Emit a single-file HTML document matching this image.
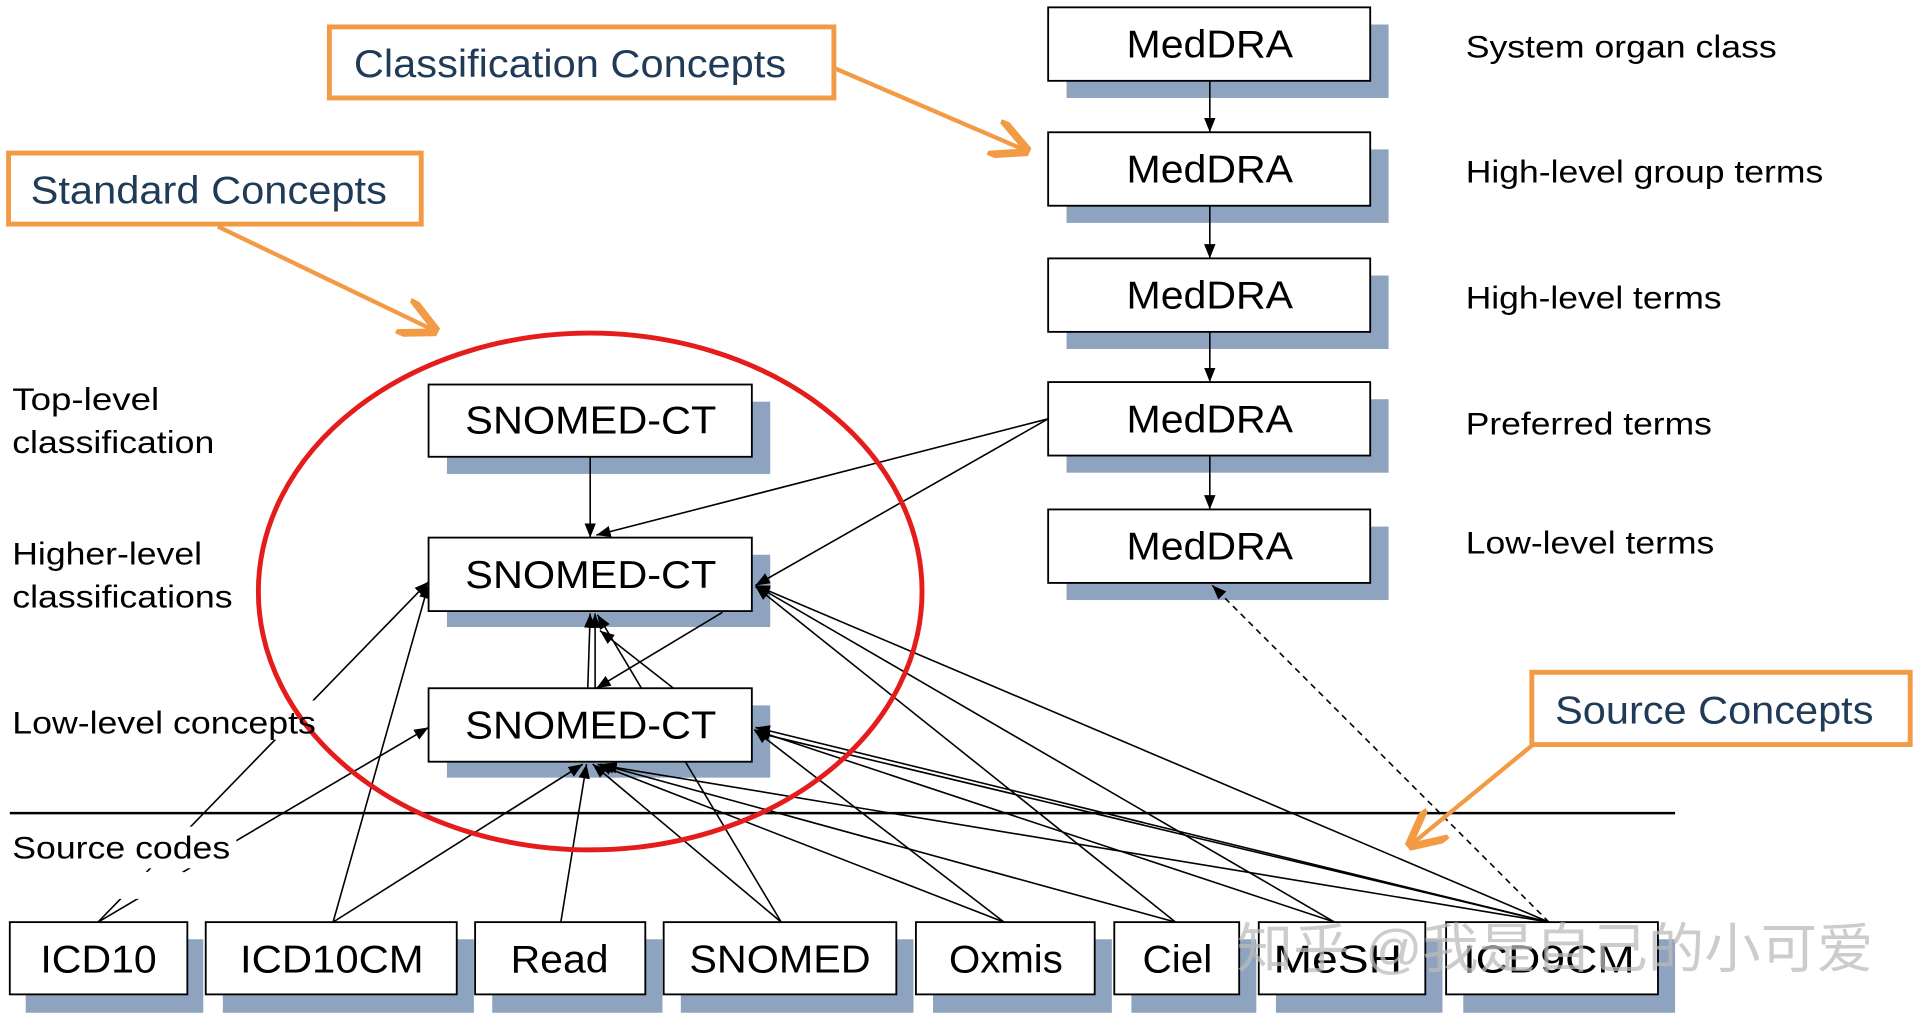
<!DOCTYPE html>
<html><head><meta charset="utf-8"><style>
html,body{margin:0;padding:0;background:#fff;width:1920px;height:1025px;overflow:hidden}
svg{display:block}
text{font-family:"Liberation Sans",sans-serif}
</style></head><body>
<svg width="1920" height="1025" viewBox="0 0 1568 837" preserveAspectRatio="none" xmlns="http://www.w3.org/2000/svg">
<defs>
<marker id="a" viewBox="0 0 10 10" refX="10" refY="5" markerWidth="9" markerHeight="9" orient="auto-start-reverse"><path d="M0,1 L10,5 L0,9 z" fill="#000"/></marker>
<marker id="o" viewBox="0 0 10 10" refX="9" refY="5" markerWidth="9" markerHeight="9" orient="auto"><path d="M0,0 L10,5 L0,10" fill="none" stroke="#f39a45" stroke-width="2"/></marker>
</defs>
<g fill="#8ea3bf">
<rect x="871" y="20" width="263" height="60"/><rect x="871" y="122" width="263" height="60"/><rect x="871" y="225" width="263" height="60"/><rect x="871" y="326" width="263" height="60"/><rect x="871" y="430" width="263" height="60"/>
<rect x="365" y="328" width="264" height="59"/><rect x="365" y="453" width="264" height="59"/><rect x="365" y="576" width="264" height="59"/>
<rect x="21" y="767" width="145" height="60"/><rect x="182" y="767" width="205" height="60"/><rect x="402" y="767" width="139" height="60"/><rect x="556" y="767" width="190" height="60"/><rect x="762" y="767" width="146" height="60"/><rect x="924" y="767" width="102" height="60"/><rect x="1042" y="767" width="136" height="60"/><rect x="1195" y="767" width="173" height="60"/>
</g>
<g stroke="#000" stroke-width="1.3" fill="none" marker-end="url(#a)">
<line x1="988" y1="66" x2="988" y2="108"/><line x1="988" y1="168" x2="988" y2="211"/><line x1="988" y1="271" x2="988" y2="312"/><line x1="988" y1="372" x2="988" y2="416"/>
<line x1="482" y1="373" x2="482" y2="439"/>
<line x1="856" y1="342" x2="487" y2="437"/><line x1="856" y1="342" x2="617" y2="478"/>
<line x1="480" y1="562" x2="482" y2="501"/><line x1="486" y1="562" x2="486" y2="501"/>
<line x1="590" y1="500" x2="487" y2="562"/><line x1="550" y1="562" x2="490" y2="515"/>
<line x1="80" y1="753" x2="350" y2="475"/><line x1="80" y1="753" x2="350" y2="594"/>
<line x1="272" y1="753" x2="350" y2="477"/><line x1="272" y1="753" x2="476" y2="624"/>
<line x1="458" y1="753" x2="479" y2="624"/>
<line x1="638" y1="753" x2="484" y2="624"/><line x1="638" y1="753" x2="488" y2="502"/>
<line x1="820" y1="753" x2="488" y2="624"/><line x1="820" y1="753" x2="616" y2="596"/>
<line x1="960" y1="753" x2="490" y2="624"/><line x1="960" y1="753" x2="617" y2="479"/>
<line x1="1090" y1="753" x2="616" y2="596"/><line x1="1090" y1="753" x2="617" y2="478"/>
<line x1="1265" y1="753" x2="617" y2="478"/><line x1="1265" y1="753" x2="617" y2="594"/><line x1="1265" y1="753" x2="492" y2="625"/><line x1="1265" y1="753" x2="617" y2="598"/>
<line x1="1265" y1="753" x2="990" y2="478" stroke-dasharray="5,4"/>
</g>
<line x1="8" y1="664" x2="1368" y2="664" stroke="#000" stroke-width="2"/>
<g fill="#fff">
<rect x="8" y="312" width="180" height="64"/><rect x="8" y="437" width="186" height="64"/><rect x="8" y="572" width="252" height="32"/><rect x="8" y="675" width="185" height="34"/><rect x="90" y="712" width="60" height="22"/>
</g>
<g fill="#fff" stroke="#000" stroke-width="1.5">
<rect x="856" y="6" width="263" height="60"/><rect x="856" y="108" width="263" height="60"/><rect x="856" y="211" width="263" height="60"/><rect x="856" y="312" width="263" height="60"/><rect x="856" y="416" width="263" height="60"/>
<rect x="350" y="314" width="264" height="59"/><rect x="350" y="439" width="264" height="60"/><rect x="350" y="562" width="264" height="60"/>
<rect x="8" y="753" width="145" height="59"/><rect x="168" y="753" width="205" height="59"/><rect x="388" y="753" width="139" height="59"/><rect x="542" y="753" width="190" height="59"/><rect x="748" y="753" width="146" height="59"/><rect x="910" y="753" width="102" height="59"/><rect x="1028" y="753" width="136" height="59"/><rect x="1181" y="753" width="173" height="59"/>
</g>
<ellipse cx="482" cy="483" rx="271" ry="211" fill="none" stroke="#e51c1c" stroke-width="4"/>
<g font-size="32">
<text x="920" y="47" textLength="136" lengthAdjust="spacingAndGlyphs">MedDRA</text><text x="920" y="149" textLength="136" lengthAdjust="spacingAndGlyphs">MedDRA</text><text x="920" y="252" textLength="136" lengthAdjust="spacingAndGlyphs">MedDRA</text><text x="920" y="353" textLength="136" lengthAdjust="spacingAndGlyphs">MedDRA</text><text x="920" y="457" textLength="136" lengthAdjust="spacingAndGlyphs">MedDRA</text>
<text x="380" y="354" textLength="205" lengthAdjust="spacingAndGlyphs">SNOMED-CT</text><text x="380" y="480" textLength="205" lengthAdjust="spacingAndGlyphs">SNOMED-CT</text><text x="380" y="603" textLength="205" lengthAdjust="spacingAndGlyphs">SNOMED-CT</text>
<text x="33" y="794" textLength="95" lengthAdjust="spacingAndGlyphs">ICD10</text><text x="196" y="794" textLength="150" lengthAdjust="spacingAndGlyphs">ICD10CM</text><text x="417" y="794" textLength="80" lengthAdjust="spacingAndGlyphs">Read</text><text x="563" y="794" textLength="148" lengthAdjust="spacingAndGlyphs">SNOMED</text><text x="775" y="794" textLength="93" lengthAdjust="spacingAndGlyphs">Oxmis</text><text x="933" y="794" textLength="57" lengthAdjust="spacingAndGlyphs">Ciel</text><text x="1040" y="794" textLength="105" lengthAdjust="spacingAndGlyphs">MeSH</text><text x="1195" y="794" textLength="140" lengthAdjust="spacingAndGlyphs">ICD9CM</text>
</g>
<g font-size="26">
<text x="1197" y="47" textLength="254" lengthAdjust="spacingAndGlyphs">System organ class</text><text x="1197" y="149" textLength="292" lengthAdjust="spacingAndGlyphs">High-level group terms</text><text x="1197" y="252" textLength="209" lengthAdjust="spacingAndGlyphs">High-level terms</text><text x="1197" y="355" textLength="201" lengthAdjust="spacingAndGlyphs">Preferred terms</text><text x="1197" y="452" textLength="203" lengthAdjust="spacingAndGlyphs">Low-level terms</text>
<text x="10" y="335" textLength="120" lengthAdjust="spacingAndGlyphs">Top-level</text><text x="10" y="370" textLength="165" lengthAdjust="spacingAndGlyphs">classification</text><text x="10" y="461" textLength="155" lengthAdjust="spacingAndGlyphs">Higher-level</text><text x="10" y="496" textLength="180" lengthAdjust="spacingAndGlyphs">classifications</text><text x="10" y="599" textLength="248" lengthAdjust="spacingAndGlyphs">Low-level concepts</text><text x="10" y="701" textLength="178" lengthAdjust="spacingAndGlyphs">Source codes</text>
</g>
<text x="1010" y="790" font-size="44" fill="#bbb" fill-opacity="0.75" textLength="520" lengthAdjust="spacingAndGlyphs" font-family="'Liberation Sans','Noto Sans CJK SC',sans-serif">知乎 @我是自己的小可爱</text>
<g fill="#fff" stroke="#f39a45" stroke-width="4">
<rect x="269" y="22" width="412" height="58"/><rect x="7" y="125" width="337" height="58"/><rect x="1251" y="549" width="309" height="59"/>
</g>
<g stroke="#f39a45" stroke-width="3.5" fill="none" marker-end="url(#o)">
<line x1="680" y1="55" x2="838" y2="123"/><line x1="178" y1="185" x2="355" y2="270"/><line x1="1252" y1="608" x2="1152" y2="690"/>
</g>
<g font-size="32" fill="#1f3b57">
<text x="289" y="63" textLength="353" lengthAdjust="spacingAndGlyphs">Classification Concepts</text><text x="25" y="166" textLength="291" lengthAdjust="spacingAndGlyphs">Standard Concepts</text><text x="1270" y="591" textLength="260" lengthAdjust="spacingAndGlyphs">Source Concepts</text>
</g>
</svg>
</body></html>
